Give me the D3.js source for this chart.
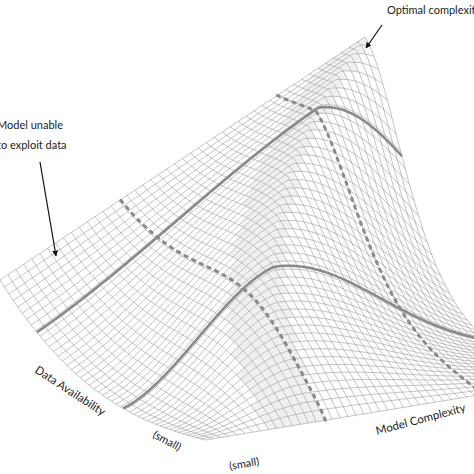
<!DOCTYPE html>
<html><head><meta charset="utf-8">
<script src="https://cdn.jsdelivr.net/npm/d3@7"></script>
<style>body{margin:0;background:#fff}text{font-family:"Gill Sans","Lato",sans-serif;fill:#222}</style>
</head><body><div id="chart"></div>
<script>
// grid resolution and highlighted curves
const gridSteps = 46;
const solidDataLevels = [0.4, 0.82];
const dottedComplexityLevels = [0.33, 0.76];
const peakHeight = 288;
const edgeHeight = 105;

const width = 474, height = 474;
const svg = d3.select("#chart").append("svg").attr("width", width).attr("height", height);

// surface height: performance vs complexity (x) and data availability (y)
function peakAt(y) { return 0.3 + 0.7 * y * y; }
function f(x, y) {
    const p = peakAt(y);
    const top = peakHeight * Math.pow(y, 0.9);
    const base = edgeHeight * Math.pow(y, 2.6);
    if (x <= p) {
        const t = x / p;
        const sig = t * t * (3 - 2 * t);
        const m = y;
        return base + (top - base) * (m * t + (1 - m) * sig);
    }
    const w = 0.42;
    const d = (x - p) / w;
    return top * Math.exp(-d * d);
}
const sx = d3.scaleLinear().domain([0, 1]).range([0, 365]);
const sy = d3.scaleLinear().domain([0, 1]).range([0, 205]);
function proj(x, y) {
    return [205 + sx(x) - sy(y), 440 - sx(x) * 60 / 365 - sy(y) * 55 / 205 - f(x, y)];
}
const line = d3.line();
const ts = d3.range(0, 1.0001, 1 / 150);

// light shading along the ridge
const g = svg.append("g");
for (let i = 0; i < gridSteps; i++) {
    for (let j = 0; j < gridSteps; j++) {
        const x0 = i / gridSteps, x1 = (i + 1) / gridSteps, y0 = j / gridSteps, y1 = (j + 1) / gridSteps;
        const d = (x0 + x1) / 2 - peakAt((y0 + y1) / 2);
        if (d > -0.12 && d < 0.03) {
            g.append("path").attr("d", line([proj(x0, y0), proj(x1, y0), proj(x1, y1), proj(x0, y1)]) + "Z")
                .attr("fill", "#f0f0f0").attr("stroke", "none");
        }
    }
}
// mesh
const levels = d3.range(0, gridSteps + 1).map(i => i / gridSteps);
levels.forEach(v => {
    g.append("path").attr("d", line(ts.map(t => proj(t, v)))).attr("fill", "none").attr("stroke", "#9a9a9a").attr("stroke-width", 0.6);
    g.append("path").attr("d", line(ts.map(t => proj(v, t)))).attr("fill", "none").attr("stroke", "#9a9a9a").attr("stroke-width", 0.6);
});
solidDataLevels.forEach(v => {
    g.append("path").attr("d", line(ts.map(t => proj(t, v)))).attr("fill", "none").attr("stroke", "#8a8a8a").attr("stroke-width", 2.6);
});
dottedComplexityLevels.forEach(v => {
    g.append("path").attr("d", line(ts.map(t => proj(v, t)))).attr("fill", "none").attr("stroke", "#8a8a8a")
        .attr("stroke-width", 3).attr("stroke-dasharray", "2.5,6").attr("stroke-linecap", "round");
});

// annotations
svg.append("defs").append("marker").attr("id", "ah").attr("viewBox", "0 0 10 10").attr("refX", 9).attr("refY", 5)
    .attr("markerWidth", 5).attr("markerHeight", 5).attr("orient", "auto")
    .append("path").attr("d", "M0,0L10,5L0,10Z").attr("fill", "#111");
svg.append("line").attr("x1", 382).attr("y1", 25).attr("x2", 366).attr("y2", 48).attr("stroke", "#111").attr("stroke-width", 1.2).attr("marker-end", "url(#ah)");
svg.append("line").attr("x1", 40).attr("y1", 162).attr("x2", 56).attr("y2", 256).attr("stroke", "#111").attr("stroke-width", 1.2).attr("marker-end", "url(#ah)");
svg.append("text").attr("x", 387).attr("y", 14).attr("font-size", 11).text("Optimal complexity");
svg.append("text").attr("x", -3).attr("y", 129).attr("font-size", 11).text("Model unable");
svg.append("text").attr("x", -3).attr("y", 149).attr("font-size", 11).text("to exploit data");
svg.append("text").attr("transform", "translate(34,372) rotate(33)").attr("font-size", 11.5).text("Data Availability");
svg.append("text").attr("transform", "translate(152,437) rotate(28)").attr("font-size", 11).text("(small)");
svg.append("text").attr("transform", "translate(230,470) rotate(-10)").attr("font-size", 11).text("(small)");
svg.append("text").attr("transform", "translate(377,435) rotate(-15)").attr("font-size", 11.5).text("Model Complexity");
</script></body></html>
